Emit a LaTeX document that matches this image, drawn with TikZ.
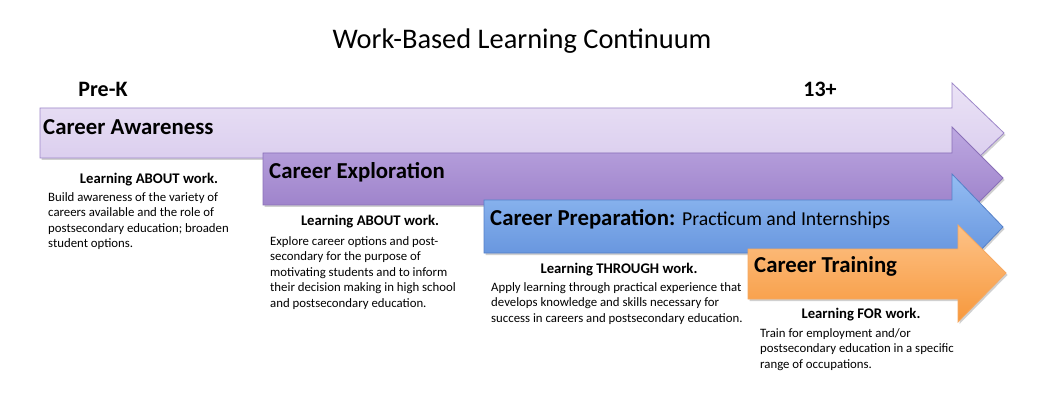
\documentclass[tikz,border=0pt]{standalone}
\usepackage{fontspec}
\setmainfont{Carlito}
\usetikzlibrary{shadows}
\definecolor{aTop}{HTML}{EBE3F6}
\definecolor{aBot}{HTML}{D6C8EC}
\definecolor{aLine}{HTML}{9D87C9}
\definecolor{bTop}{HTML}{BDA8E1}
\definecolor{bBot}{HTML}{9679C5}
\definecolor{bLine}{HTML}{8A70B8}
\definecolor{cTop}{HTML}{94BDF3}
\definecolor{cBot}{HTML}{5A8AD8}
\definecolor{cLine}{HTML}{5580C8}
\definecolor{dTop}{HTML}{FDC287}
\definecolor{dBot}{HTML}{F7983C}
\definecolor{dLine}{HTML}{F6A860}
\tikzset{
  bigarrow/.style={line width=0.8pt, line join=miter,
    drop shadow={shadow xshift=1.5pt, shadow yshift=-2pt, opacity=0.3, fill=black!60}},
  arrowA/.style={bigarrow, draw=aLine, top color=aTop, bottom color=aBot},
  arrowB/.style={bigarrow, draw=bLine, top color=bTop, bottom color=bBot},
  arrowC/.style={bigarrow, draw=cLine, top color=cTop, bottom color=cBot},
  arrowD/.style={bigarrow, draw=dLine, top color=dTop, bottom color=dBot},
  titletext/.style={inner sep=0pt, font=\fontsize{28.4}{32}\selectfont},
  agetext/.style={inner sep=0pt, font=\fontsize{22}{26}\bfseries\selectfont},
  stagetext/.style={inner sep=0pt, anchor=west, font=\fontsize{22.8}{26}\bfseries\selectfont},
  headtext/.style={inner sep=0pt, font=\fontsize{14.7}{17}\bfseries\selectfont},
  bodytext/.style={inner sep=0pt, anchor=north west, align=left, font=\fontsize{12.8}{15.5}\selectfont},
}
\begin{document}
\begin{tikzpicture}[x=1pt,y=-1pt]
\useasboundingbox[fill=white] (0,0) rectangle (1064,403);
% arrows
\path[arrowA] (40,108) -- (952,108) -- (952,83) -- (1004,133) -- (952,183) -- (952,158) -- (40,158) -- cycle;
\path[arrowB] (263,153) -- (952,153) -- (952,127) -- (1003,178) -- (952,229) -- (952,205) -- (263,205) -- cycle;
\path[arrowC] (484,200) -- (952,200) -- (952,174) -- (1003,227) -- (952,280) -- (952,253) -- (484,253) -- cycle;
\path[arrowD] (748,249) -- (958,249) -- (958,225) -- (1006,273) -- (958,322) -- (958,299) -- (748,299) -- cycle;
% texts
\node[titletext] (title) at (522,41) {Work-Based Learning Continuum};
\node[agetext] (prek) at (103,89) {Pre-K};
\node[agetext] (thirteen) at (820,89) {13+};
\node[stagetext] (aware) at (43,127) {Career Awareness};
\node[stagetext] (explore) at (269,172) {Career Exploration};
\node[stagetext] (prep) at (490,219) {Career Preparation: {\mdseries\fontsize{19.7}{22}\selectfont Practicum and Internships}};
\node[stagetext] (train) at (754,266) {Career Training};
\node[headtext] (h1) at (149,180) {Learning ABOUT work.};
\node[headtext] (h2) at (370,222) {Learning ABOUT work.};
\node[headtext] (h3) at (619,270) {Learning THROUGH work.};
\node[headtext] (h4) at (861,315) {Learning FOR work.};
\node[bodytext] (b1) at (48,192) {Build awareness of the variety of\\careers available and the role of\\postsecondary education; broaden\\student options.};
\node[bodytext] (b2) at (270,236) {Explore career options and post-\\secondary for the purpose of\\motivating students and to inform\\their decision making in high school\\and postsecondary education.};
\node[bodytext] (b3) at (491,282) {Apply learning through practical experience that\\develops knowledge and skills necessary for\\success in careers and postsecondary education.};
\node[bodytext] (b4) at (760,328) {Train for employment and/or\\postsecondary education in a specific\\range of occupations.};
\end{tikzpicture}
\end{document}
